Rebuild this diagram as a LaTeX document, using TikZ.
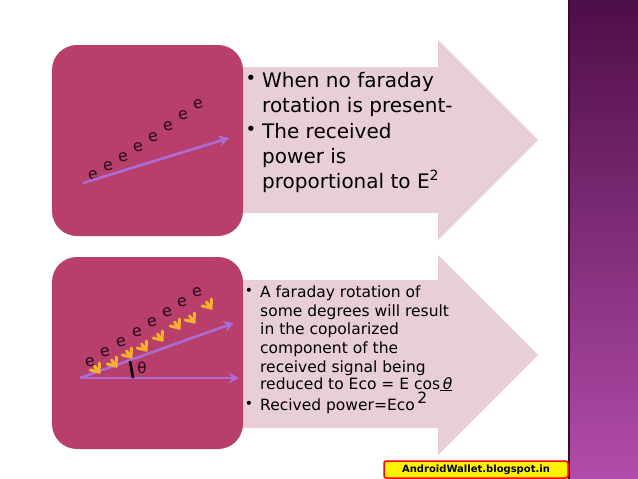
\documentclass[tikz,border=0pt]{standalone}
\usepackage{fontspec}
\setmainfont{DejaVu Sans}
\usetikzlibrary{arrows.meta,calc}
\definecolor{boxred}{RGB}{184,62,107}
\definecolor{arrowpink}{RGB}{232,207,214}
\definecolor{violetline}{RGB}{172,108,212}
\definecolor{chevorange}{RGB}{247,178,45}
\definecolor{bandtop}{RGB}{78,14,72}
\definecolor{bandbot}{RGB}{178,76,170}
\definecolor{edark}{RGB}{40,10,30}
\tikzset{
  sqbox/.style={fill=boxred, rounded corners=25pt},
  bigarrow/.style={fill=arrowpink},
  vline/.style={draw=violetline, line width=2.6pt, -{Stealth[length=10pt,width=11pt,inset=3pt]}},
  eletter/.style={font=\fontsize{16}{16}\selectfont, text=edark, inner sep=0pt, rotate=12},
  chev/.style={draw=chevorange, line width=3pt, line cap=round, line join=miter},
  toptext/.style={anchor=base west, inner sep=0pt, font=\fontsize{20}{24}\selectfont},
  bottext/.style={anchor=base west, inner sep=0pt, font=\fontsize{15.5}{18}\selectfont},
  topbullet/.style={anchor=center, inner sep=0pt, font=\fontsize{18}{18}\selectfont},
  botbullet/.style={anchor=center, inner sep=0pt, font=\fontsize{14}{14}\selectfont}
}
\begin{document}
\begin{tikzpicture}[x=1pt,y=-1pt]
\useasboundingbox (0,0) rectangle (638,479);
\fill[white] (0,0) rectangle (638,479);
% right band
\shade[top color=bandtop, bottom color=bandbot] (569,0) rectangle (638,479);
\draw[line width=2pt, color=bandtop!70!black] (569,0) -- (569,479);

% top arrow and box
\fill[bigarrow] (238,67) -- (438,67) -- (438,40) -- (538,140) -- (438,240) -- (438,213) -- (238,213) -- cycle;
\fill[sqbox] (52,45) rectangle (243,236);
% bottom arrow and box
\fill[bigarrow] (238,280) -- (438,280) -- (438,255) -- (538,355) -- (438,455) -- (438,428) -- (238,428) -- cycle;
\fill[sqbox] (52,257) rectangle (243,449);

% top diagram
\foreach \x/\y [count=\i] in {93/175,108/166,123/157,138/147,153/137,168/126,183/115,198/104}
  \node[eletter] (te\i) at (\x,\y) {e};
\coordinate (ta1) at (83,183);
\coordinate (ta2) at (229,138);
\draw[vline] (ta1) -- (ta2);

% bottom diagram
\coordinate (ba0) at (80,378);
\coordinate (ba1) at (234,323);
\coordinate (ba2) at (239,378);
\draw[vline] (ba0) -- (ba1);
\draw[vline] (ba0) -- (ba2);
\foreach \x/\y [count=\i] in {90/362,105/352,121/342,137/332,152/322,167/312,182/302,197/292}
  \node[eletter] (be\i) at (\x,\y) {e};
\foreach \x/\y [count=\i] in {99/372,116/366,131/357,146/350,162/340,179/328,194/322,211/308}{
  \coordinate (cv\i) at (\x,\y);
  \draw[chev] ($(cv\i)+(0.5,-9)$) -- (cv\i) -- ($(cv\i)+(-8.8,-2)$);
  \draw[chev] (cv\i) -- ($(cv\i)+(-4.5,-6)$);
}
\coordinate (tk1) at (130,361);
\coordinate (tk2) at (133,378);
\draw[line width=2.6pt, color=black] (tk1) -- (tk2);
\node[font=\fontsize{15}{15}\selectfont, text=edark, inner sep=0pt] (theta) at (142,368) {θ};

% top text
\node[topbullet] (tb1) at (251,80) {•};
\node[toptext] (tt1) at (262,87) {When no faraday};
\node[toptext] (tt2) at (262,112) {rotation is present-};
\node[topbullet] (tb2) at (251,131) {•};
\node[toptext] (tt3) at (262,138) {The received};
\node[toptext] (tt4) at (262,163) {power is};
\node[toptext] (tt5) at (262,188) {proportional to E\textsuperscript{2}};

% bottom text
\node[botbullet] (bb1) at (249,292) {•};
\node[bottext] (bt1) at (260,297) {A faraday rotation of};
\node[bottext] (bt2) at (260,316) {some degrees will result};
\node[bottext] (bt3) at (260,334) {in the copolarized};
\node[bottext] (bt4) at (260,353) {component of the};
\node[bottext] (bt5) at (260,372) {received signal being};
\node[bottext] (bt6) at (260,389) {reduced to Eco = E cos\underline{\,\textit{θ}}};
\node[botbullet] (bb2) at (249,405) {•};
\node[bottext] (bt7) at (260,410) {Recived power=Eco\,\raisebox{0.4em}{2}};

% footer
\node[fill=yellow, draw=red, line width=1.5pt, rounded corners=2pt, minimum width=184pt, minimum height=17pt, inner sep=0pt, font=\fontsize{10}{10}\selectfont\bfseries] (footer) at (476,469.5) {AndroidWallet.blogspot.in};
\end{tikzpicture}
\end{document}
